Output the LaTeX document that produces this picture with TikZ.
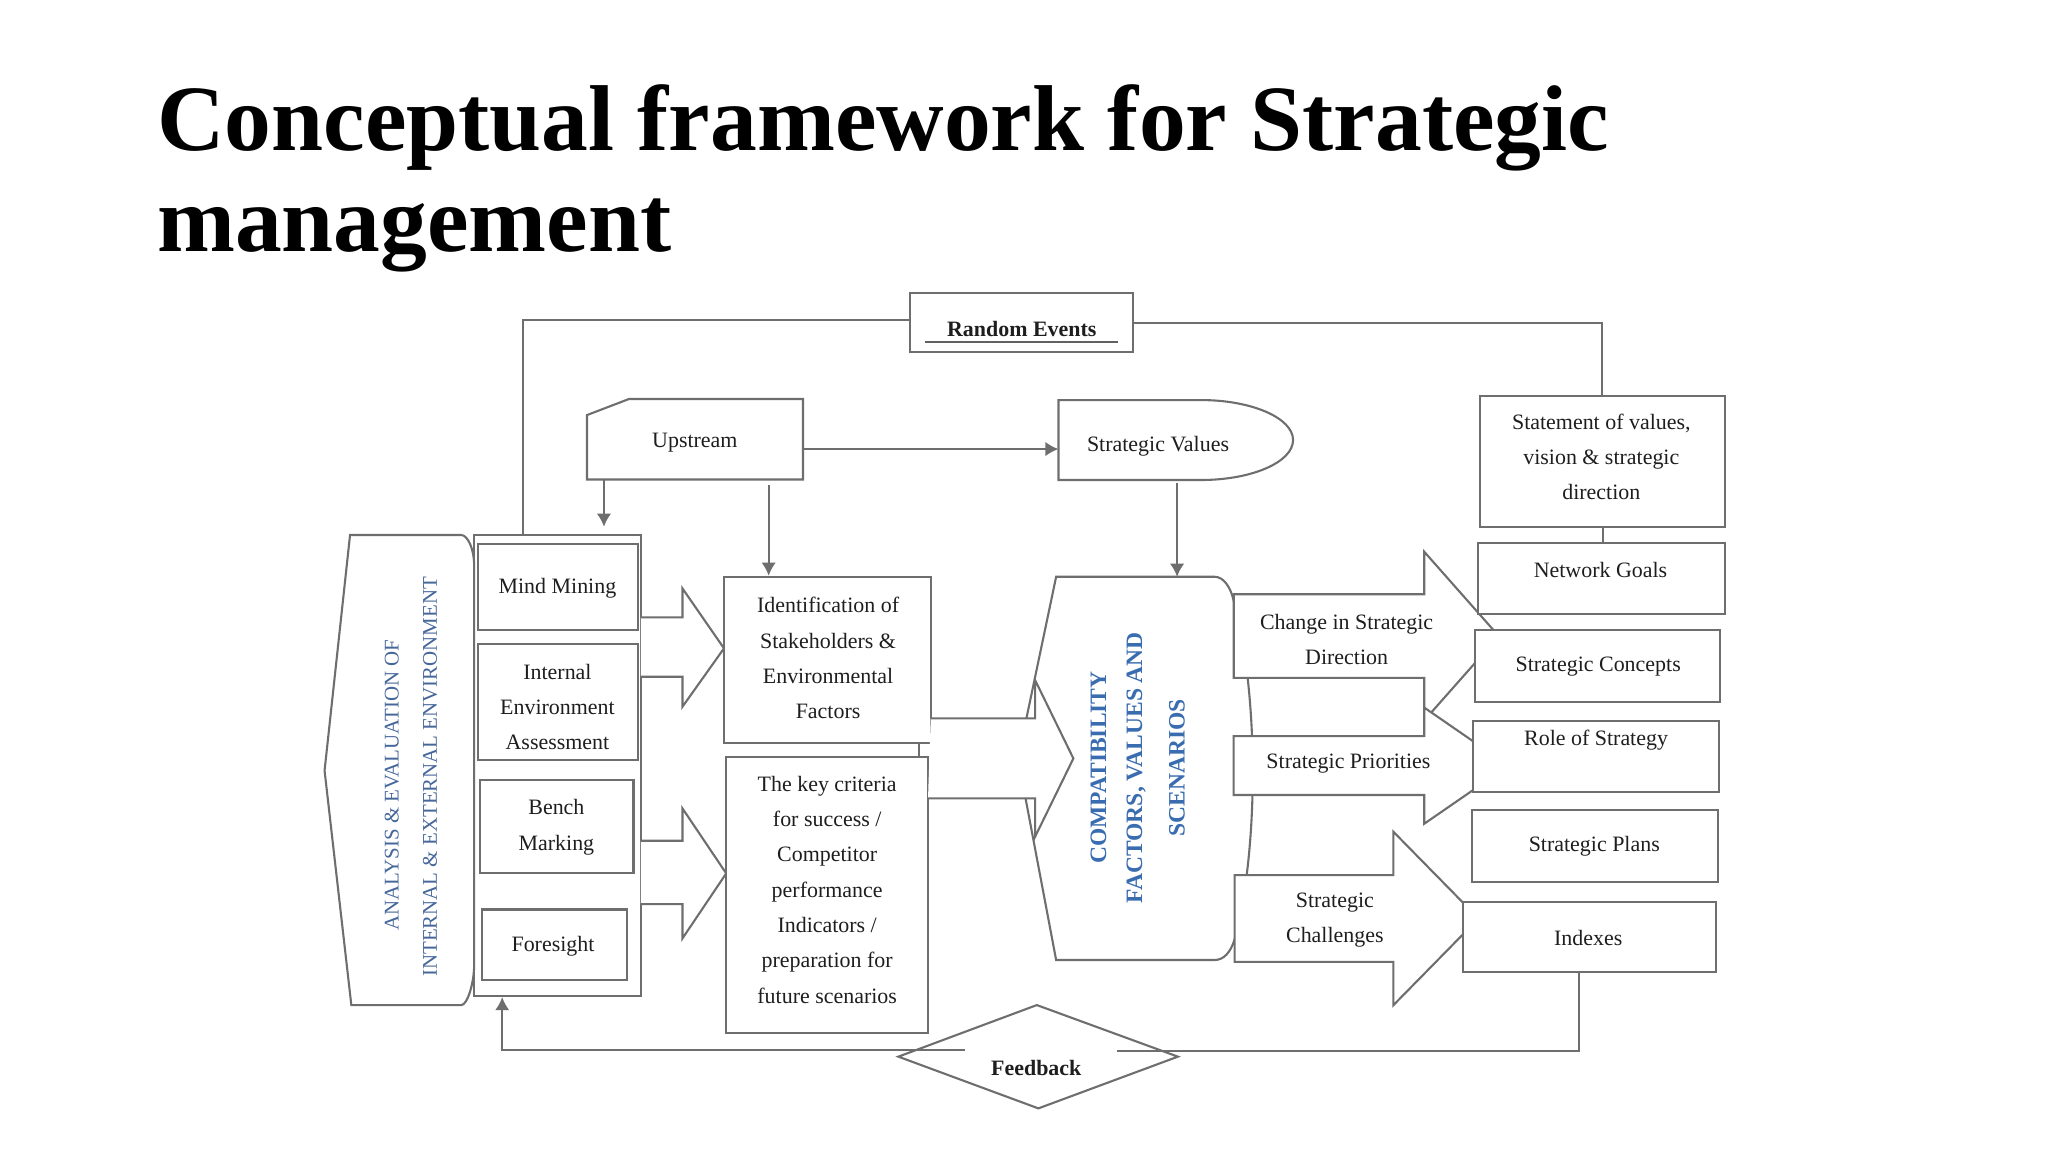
\documentclass[tikz,border=0pt]{standalone}
\usepackage{fontspec}
\setmainfont{Liberation Serif}
\usetikzlibrary{arrows.meta,fit}
\definecolor{lncol}{HTML}{6E6E6E}
\definecolor{tx}{HTML}{1E1E1E}
\definecolor{bluA}{HTML}{3A6DB0}
\definecolor{bluB}{HTML}{46679A}
\begin{document}
\begin{tikzpicture}[x=0.5pt,y=-0.5pt,line join=miter,
  ln/.style={draw=lncol,line width=0.8pt},
  box/.style={ln,fill=white,inner sep=0pt},
  shp/.style={ln,fill=white},
  txt/.style={text=tx,font=\fontsize{8.4}{13.5}\selectfont,align=center,inner sep=0pt},
  btxt/.style={txt,font=\fontsize{8.4}{13.5}\selectfont\bfseries},
  vtxtA/.style={text=bluA,font=\fontsize{9}{10}\selectfont\bfseries,rotate=90,inner sep=0pt},
  vtxtB/.style={text=bluB,font=\fontsize{8}{10}\selectfont,rotate=90,inner sep=0pt},
  arr/.style={ln,-{Latex[length=5pt,width=5.5pt]}},
  ttl/.style={anchor=base west,inner sep=0pt,text=black,font=\fontsize{35.8}{40}\selectfont\bfseries}]
\useasboundingbox[fill=white] (0,0) rectangle (1568,882);

% ---------- title ----------
\node[ttl] (title1) at (120,115.4) {Conceptual framework for Strategic};
\node[ttl] (title2) at (120,192.7) {management};

% ---------- Random Events and its lines ----------
\node[box,fit={(696.8,224.1) (867.3,269.3)}] (rnd) {};
\node[btxt] (rndT) at (782.3,252) {Random Events};
\draw[draw=tx!70,line width=0.8pt] (708.3,261.5) -- (856.3,261.5);
\coordinate (rndL) at (400.5,245);
\coordinate (rndR) at (1226.7,247.6);

% ---------- Upstream ----------
\draw[shp] (449.4,317.8) -- (481.5,305.5) -- (614.8,305.5) -- (614.8,367.1) -- (449.4,367.1) -- cycle;
\node[txt] (ups) at (532,339) {Upstream};
\coordinate (upsR) at (614.8,343.8);
\coordinate (upsB1) at (462.4,367.1);
\coordinate (upsB2) at (588.5,371.4);

% ---------- Strategic Values ----------
\draw[shp] (810.4,306.3) -- (919.6,306.3) .. controls (958.4,306.3) and (990,320.1) .. (990,336.9)
  .. controls (990,353.8) and (958.4,367.5) .. (919.6,367.5) -- (810.4,367.5) -- cycle;
\node[txt] (sv) at (886.6,342) {Strategic Values};
\coordinate (svL) at (810.4,343.8);
\coordinate (svB) at (901.2,370);

% ---------- left analysis shape ----------
\draw[shp] (268,409.6) -- (353,409.6) .. controls (358,409.6) and (363,420) .. (363,433) -- (363,739)
  .. controls (363,752) and (358,769.6) .. (353,769.6) -- (269,769.6) -- (248.5,590) -- cycle;
\node[vtxtB] (anl1) at (300,601) {ANALYSIS \& EVALUATION OF};
\node[vtxtB] (anl2) at (329.2,594.7) {INTERNAL \& EXTERNAL ENVIRONMENT};

% ---------- group of four boxes ----------
\node[box,fill=none,fit={(363,409.6) (490.6,762.6)}] (grp) {};
\node[box,fit={(366.3,416.5) (488.4,482.4)}] (mm) {};
\node[txt] (mmT) at (426.8,450.4) {Mind Mining};
\node[box,fit={(366.3,493.1) (488.4,582)}] (iea) {};
\node[txt] (ieaT) at (426.8,541.2) {Internal\\Environment\\Assessment};
\node[box,fit={(367.4,596.9) (485,668.7)}] (bm) {};
\node[txt] (bmT) at (426,633.3) {Bench\\Marking};
\node[box,fit={(369,696.3) (480.2,750.4)}] (fs) {};
\node[txt] (fsT) at (423.4,724.3) {Foresight};

% ---------- block arrows from group ----------
\draw[shp] (490.6,472.7) -- (522.5,472.7) -- (522.5,450.5) -- (554.3,496.4) -- (522.5,541.1) -- (522.5,518.1) -- (490.6,518.1);
\draw[shp] (490.6,643.7) -- (522.5,643.7) -- (522.5,618.9) -- (556,668.7) -- (522.5,718.5) -- (522.5,692.2) -- (490.6,692.2);

% ---------- identification / key criteria ----------
\node[box,fit={(554.3,441.6) (712.6,568.7)}] (idf) {};
\node[txt] (idfT) at (634,503.8) {Identification of\\Stakeholders \&\\Environmental\\Factors};
\node[box,fit={(556,579.4) (710.5,791)}] (key) {};
\node[txt] (keyT) at (633.3,681.2) {The key criteria\\for success /\\Competitor\\performance\\Indicators /\\preparation for\\future scenarios};
\coordinate (lnk) at (703.6,0);
\draw[ln] (idf.south -| lnk) -- (key.north -| lnk);

% ---------- compatibility shape ----------
\draw[shp] (808.6,441.6) -- (930,441.6) .. controls (937,441.6) and (942,450) .. (944,458)
  .. controls (964,530) and (964,650) .. (945,720) .. controls (942,729) and (937,735) .. (930,735)
  -- (808.6,735) -- (779.4,580.7) -- cycle;
\coordinate (cmpT) at (901.2,441.6);
\draw[shp] (712.6,550) -- (792.5,550) -- (792.5,520.7) -- (821.8,580.7) -- (792.5,640.6) -- (792.5,611.3) -- (710.5,611.3);
\node[vtxtA] (cmp1) at (841,587.7) {COMPATIBILITY};
\node[vtxtA] (cmp2) at (869.8,587.7) {FACTORS, VALUES AND};
\node[vtxtA] (cmp3) at (901,588) {SCENARIOS};

% ---------- right block arrows ----------
\draw[shp] (944.6,455) -- (1090.4,455) -- (1090.4,422.4) -- (1147.5,487) -- (1090.4,551.6) -- (1090.4,519) -- (944.6,519) -- cycle;
\draw[shp] (944.5,563.6) -- (1090.4,563.6) -- (1090.4,541.7) -- (1154.9,586.2) -- (1090.4,630.7) -- (1090.4,608.7) -- (944.5,608.7) -- cycle;
\draw[shp] (945.2,670) -- (1066.8,670) -- (1066.8,636.8) -- (1132,703.2) -- (1066.8,769.6) -- (1066.8,736.4) -- (945.2,736.4) -- cycle;
\node[txt] (chgT) at (1031,489.4) {Change in Strategic\\Direction};
\node[txt] (priT) at (1032.4,585) {Strategic Priorities};
\node[txt] (chaT) at (1022,704.5) {Strategic\\Challenges};

% ---------- right boxes ----------
\node[box,fit={(1133,303.2) (1320.8,403.3)}] (stm) {};
\node[txt] (stmT) at (1226,349.9) {Statement of values,\\vision \& strategic\\direction};
\node[box,fit={(1131.8,416) (1320.8,470)}] (ng) {};
\node[txt] (ngT) at (1225.4,436.5) {Network Goals};
\node[box,fit={(1129,482.4) (1317,537.3)}] (sc) {};
\node[txt] (scT) at (1223.6,510.5) {Strategic Concepts};
\node[box,fit={(1127.6,551.8) (1316,606.2)}] (ros) {};
\node[txt] (rosT) at (1222,567) {Role of Strategy};
\node[box,fit={(1127,620) (1315,675.6)}] (sp) {};
\node[txt] (spT) at (1220.6,648) {Strategic Plans};
\node[box,fit={(1120,690.4) (1314,744.5)}] (idx) {};
\node[txt] (idxT) at (1216,718) {Indexes};
\coordinate (stmX) at (1227,0);
\draw[ln] (stm.south -| stmX) -- (ng.north -| stmX);

% ---------- feedback ----------
\coordinate (dL) at (687.8,809);
\coordinate (dT) at (793.8,769.5);
\coordinate (dR) at (901.8,809);
\coordinate (dB) at (795,848.6);
\draw[ln] (dL) -- (dT) -- (dR) -- (dB) -- cycle;
\node[btxt] (fbT) at (793.4,818) {Feedback};
\coordinate (fbR) at (1209,804.5);
\coordinate (fbRe) at (855,804.5);
\coordinate (fbLs) at (738.9,804);
\coordinate (fbL) at (384.5,804);
\draw[ln] (idx.south -| fbR) -- (fbR) -- (fbRe);
\draw[arr] (fbLs) -- (fbL) -- (grp.south -| fbL);

% ---------- connectors ----------
\draw[ln] (rnd.west |- rndL) -- (rndL) -- (grp.north -| rndL);
\draw[ln] (rnd.east |- rndR) -- (rndR) -- (stm.north -| rndR);
\draw[arr] (upsR) -- (svL);
\draw[arr] (upsB1) -- (462.4,403.3);
\draw[arr] (upsB2) -- (idf.north -| upsB2);
\draw[arr] (svB) -- (cmpT);
\end{tikzpicture}
\end{document}
